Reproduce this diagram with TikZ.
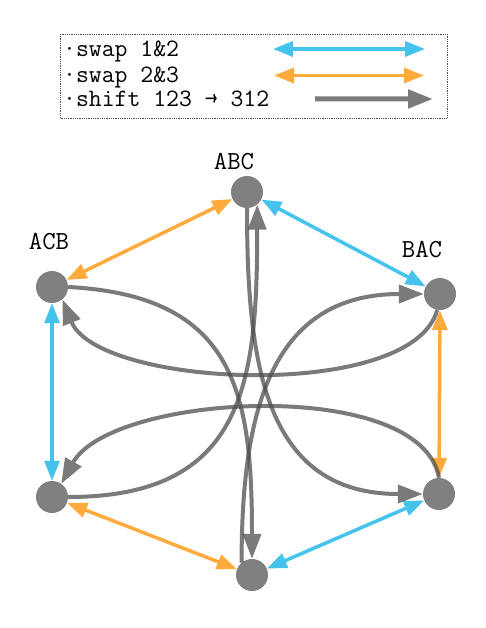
\documentclass[tikz,border=0pt]{standalone}
\usepackage{fontspec}
\usetikzlibrary{arrows.meta,positioning}

\definecolor{swapblue}{HTML}{45C3EC}
\definecolor{swaporange}{HTML}{FFAA3C}
\definecolor{shiftgray}{HTML}{4D4D4D}
\definecolor{permgray}{HTML}{808080}

\tikzset{
	perm/.style={circle,fill=permgray,minimum size=32pt,inner sep=0pt},
	permlabel/.style={inner sep=0pt,font=\ttfamily\fontsize{26}{30}\selectfont},
	keytext/.style={anchor=base west,inner sep=0pt,font=\ttfamily\fontsize{25}{28}\selectfont},
	keybox/.style={draw=black!70,densely dotted,line width=0.8pt},
	swaptip/.tip={Triangle[length=20pt,width=15pt]},
	shifttip/.tip={Triangle[length=25pt,width=18pt]},
	swapone/.style={draw=swapblue,line width=3.5pt,{swaptip}-{swaptip}},
	swaptwo/.style={draw=swaporange,line width=3.5pt,{swaptip}-{swaptip}},
	shiftarr/.style={draw=shiftgray,line width=4pt,-{shifttip}},
	shiftgroup/.style={transparency group,opacity=0.75}
}

\begin{document}
\begin{tikzpicture}[x=1pt,y=1pt]
	\useasboundingbox (0,0) rectangle (485,-628);
	\draw[keybox] (60,-34) rectangle (447,-118);
	\node[keytext] (k1) at (63,-57) {·swap 1\&2};
	\node[keytext] (k2) at (63,-83) {·swap 2\&3};
	\node[keytext] (k3) at (63,-107) {·shift 123 → 312};
	\coordinate (k1a) at (273,-49);
	\coordinate (k1b) at (425,-49);
	\coordinate (k2a) at (274,-75.5);
	\coordinate (k2b) at (424,-75.5);
	\coordinate (k3a) at (315,-99);
	\coordinate (k3b) at (433,-99);
	\draw[swapone] (k1a) -- (k1b);
	\draw[swaptwo] (k2a) -- (k2b);
	\begin{scope}[shiftgroup]
		\draw[shiftarr,line width=5pt] (k3a) -- (k3b);
	\end{scope}

	\node[perm] (abc) at (247,-192) {};
	\node[perm] (bac) at (440,-294) {};
	\node[perm] (bca) at (439,-494) {};
	\node[perm] (cba) at (252,-575) {};
	\node[perm] (cab) at (52,-497) {};
	\node[perm] (acb) at (52,-287) {};
	\node[permlabel,above=6pt of abc,xshift=-13pt] (labc) {ABC};
	\node[permlabel,above=21pt of acb,xshift=-3pt] (lacb) {ACB};
	\node[permlabel,above=20pt of bac,xshift=-18pt] (lbac) {BAC};

	\draw[swapone] (abc) -- (bac);
	\draw[swapone] (acb) -- (cab);
	\draw[swapone] (bca) -- (cba);
	\draw[swaptwo] (abc) -- (acb);
	\draw[swaptwo] (bac) -- (bca);
	\draw[swaptwo] (cab) -- (cba);

	\foreach \from/\to/\o/\i/\l in {abc.south/bca.west/-90/180/1.2,
		bca.north/cab.55/100/61/0.7,
		cab.east/abc.-51/0/-90/1.3,
		acb.east/cba.north/-3/90/1.3,
		cba.130/bac.west/90/180/1.2,
		bac.-100/acb.-50/-105/-68/0.65}
	{
		\begin{scope}[shiftgroup]
			\draw[shiftarr] (\from) to[out=\o,in=\i,looseness=\l] (\to);
		\end{scope}
	}
\end{tikzpicture}
\end{document}
